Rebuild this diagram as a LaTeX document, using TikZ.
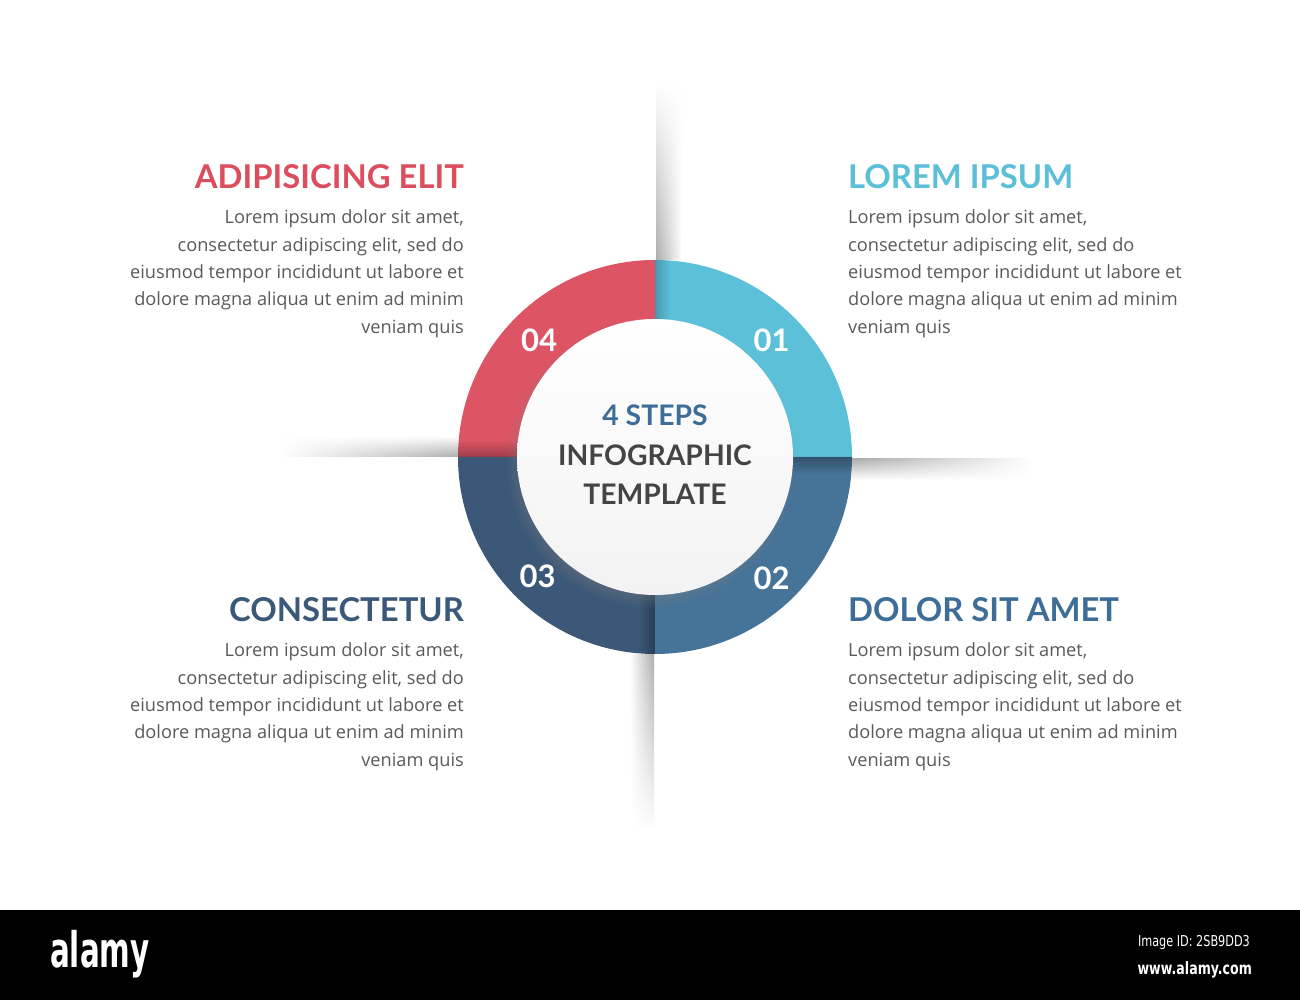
\documentclass[tikz,border=0pt]{standalone}
\usepackage{fontspec}
\setmainfont{Open Sans}
\newfontfamily\lato{Lato}
\newfontfamily\dejavu{DejaVu Sans}
\usetikzlibrary{shadows,fadings}
\definecolor{cred}{HTML}{DD5565}
\definecolor{clight}{HTML}{5CC0D9}
\definecolor{cblue}{HTML}{467398}
\definecolor{cdark}{HTML}{3B5878}
\definecolor{hred}{HTML}{DC4E5E}
\definecolor{hlight}{HTML}{5BBFD8}
\definecolor{hblue}{HTML}{3E6E98}
\definecolor{hdark}{HTML}{3A5878}
\definecolor{txt}{HTML}{5A5A5A}
\definecolor{ctxt}{HTML}{444444}
\begin{document}
\begin{tikzpicture}[x=1pt,y=1pt,
  head/.style={font=\lato\bfseries\fontsize{32.8}{38}\selectfont, inner sep=0pt},
  num/.style={font=\lato\bfseries\fontsize{31}{36}\selectfont, text=white, inner sep=0pt, anchor=base},
  ctr/.style={font=\lato\bfseries\fontsize{28.3}{34}\selectfont, inner sep=0pt, anchor=base},
  body/.style={inner sep=0pt, text=txt, font=\fontsize{18.2}{27.3}\selectfont},
  seam/.style={black, opacity=.28}
  ]
\fill[white] (0,0) rectangle (1300,1000);
\useasboundingbox (0,0) rectangle (1300,1000);

% outer fold shadows
\shade[left color=black!32, right color=white, path fading=north] (656,740) rectangle (682,915);
\shade[top color=black!32, bottom color=white, path fading=east] (852,541) rectangle (1032,520);
\shade[right color=black!32, left color=white, path fading=south] (630,345) rectangle (654,170);
\shade[bottom color=black!32, top color=white, path fading=west] (280,543) rectangle (458,564);

% ring
\coordinate (c) at (655,543);
\fill[clight] (c) -- ++(0:197) arc[start angle=0,end angle=90,radius=197] -- cycle;
\fill[cred] (c) -- ++(90:197) arc[start angle=90,end angle=180,radius=197] -- cycle;
\fill[cdark] (c) -- ++(180:197) arc[start angle=180,end angle=270,radius=197] -- cycle;
\fill[cblue] (c) -- ++(270:197) arc[start angle=270,end angle=360,radius=197] -- cycle;

% seam shadows
\begin{scope}
\clip (c) circle (197);
\fill[seam, path fading=north] (455,543) rectangle (655,560);
\fill[seam, opacity=.2, path fading=east] (655,543) rectangle (670,745);
\fill[seam, path fading=south] (655,543) rectangle (855,526);
\fill[seam, path fading=west] (638,543) rectangle (655,340);
\end{scope}

% center disc
\node[circle, minimum size=276pt, inner sep=0pt, top color=white, bottom color=black!5,
  circular drop shadow={shadow xshift=-4pt, shadow yshift=-6pt, opacity=.5, shadow scale=1.05}] (core) at (c) {};

\node[ctr, text=hblue] (t1) at (655,574) {4 STEPS};
\node[ctr, text=ctxt] (t2) at (655,534) {INFOGRAPHIC};
\node[ctr, text=ctxt] (t3) at (655,495) {TEMPLATE};

% numbers
\node[num] (n1) at (771.5,648) {01};
\node[num] (n2) at (771.5,410) {02};
\node[num] (n3) at (537.5,412) {03};
\node[num] (n4) at (539,648) {04};

% headings
\node[head, text=hred, anchor=base east] (h4) at (464,811) {ADIPISICING ELIT};
\node[head, text=hlight, anchor=base west] (h1) at (848,811) {LOREM IPSUM};
\node[head, text=hdark, anchor=base east] (h3) at (464,378) {CONSECTETUR};
\node[head, text=hblue, anchor=base west] (h2) at (848,378) {DOLOR SIT AMET};

% body texts
\node[body, anchor=base east] (b4) at (464,776) {\parbox[t]{400pt}{\raggedleft Lorem ipsum dolor sit amet,\\ consectetur adipiscing elit, sed do\\ eiusmod tempor incididunt ut labore et\\ dolore magna aliqua ut enim ad minim\\ veniam quis}};
\node[body, anchor=base west] (b1) at (848,776) {\parbox[t]{400pt}{\raggedright Lorem ipsum dolor sit amet,\\ consectetur adipiscing elit, sed do\\ eiusmod tempor incididunt ut labore et\\ dolore magna aliqua ut enim ad minim\\ veniam quis}};
\node[body, anchor=base east] (b3) at (464,343) {\parbox[t]{400pt}{\raggedleft Lorem ipsum dolor sit amet,\\ consectetur adipiscing elit, sed do\\ eiusmod tempor incididunt ut labore et\\ dolore magna aliqua ut enim ad minim\\ veniam quis}};
\node[body, anchor=base west] (b2) at (848,343) {\parbox[t]{400pt}{\raggedright Lorem ipsum dolor sit amet,\\ consectetur adipiscing elit, sed do\\ eiusmod tempor incididunt ut labore et\\ dolore magna aliqua ut enim ad minim\\ veniam quis}};

% footer bar
\fill[black] (0,0) rectangle (1300,90);
\node[font=\dejavu\bfseries\fontsize{49}{49}\selectfont, text=white, xscale=.6, anchor=base west, inner sep=0pt] (logo) at (50,32) {alamy};
\node[font=\dejavu\fontsize{15}{15}\selectfont, text=white, xscale=.75, anchor=base east, inner sep=0pt] (imgid) at (1250,53) {Image ID: 2SB9DD3};
\node[font=\dejavu\bfseries\fontsize{17}{17}\selectfont, text=white, xscale=.74, anchor=base east, inner sep=0pt] (www) at (1252,25) {www.alamy.com};
\end{tikzpicture}
\end{document}
